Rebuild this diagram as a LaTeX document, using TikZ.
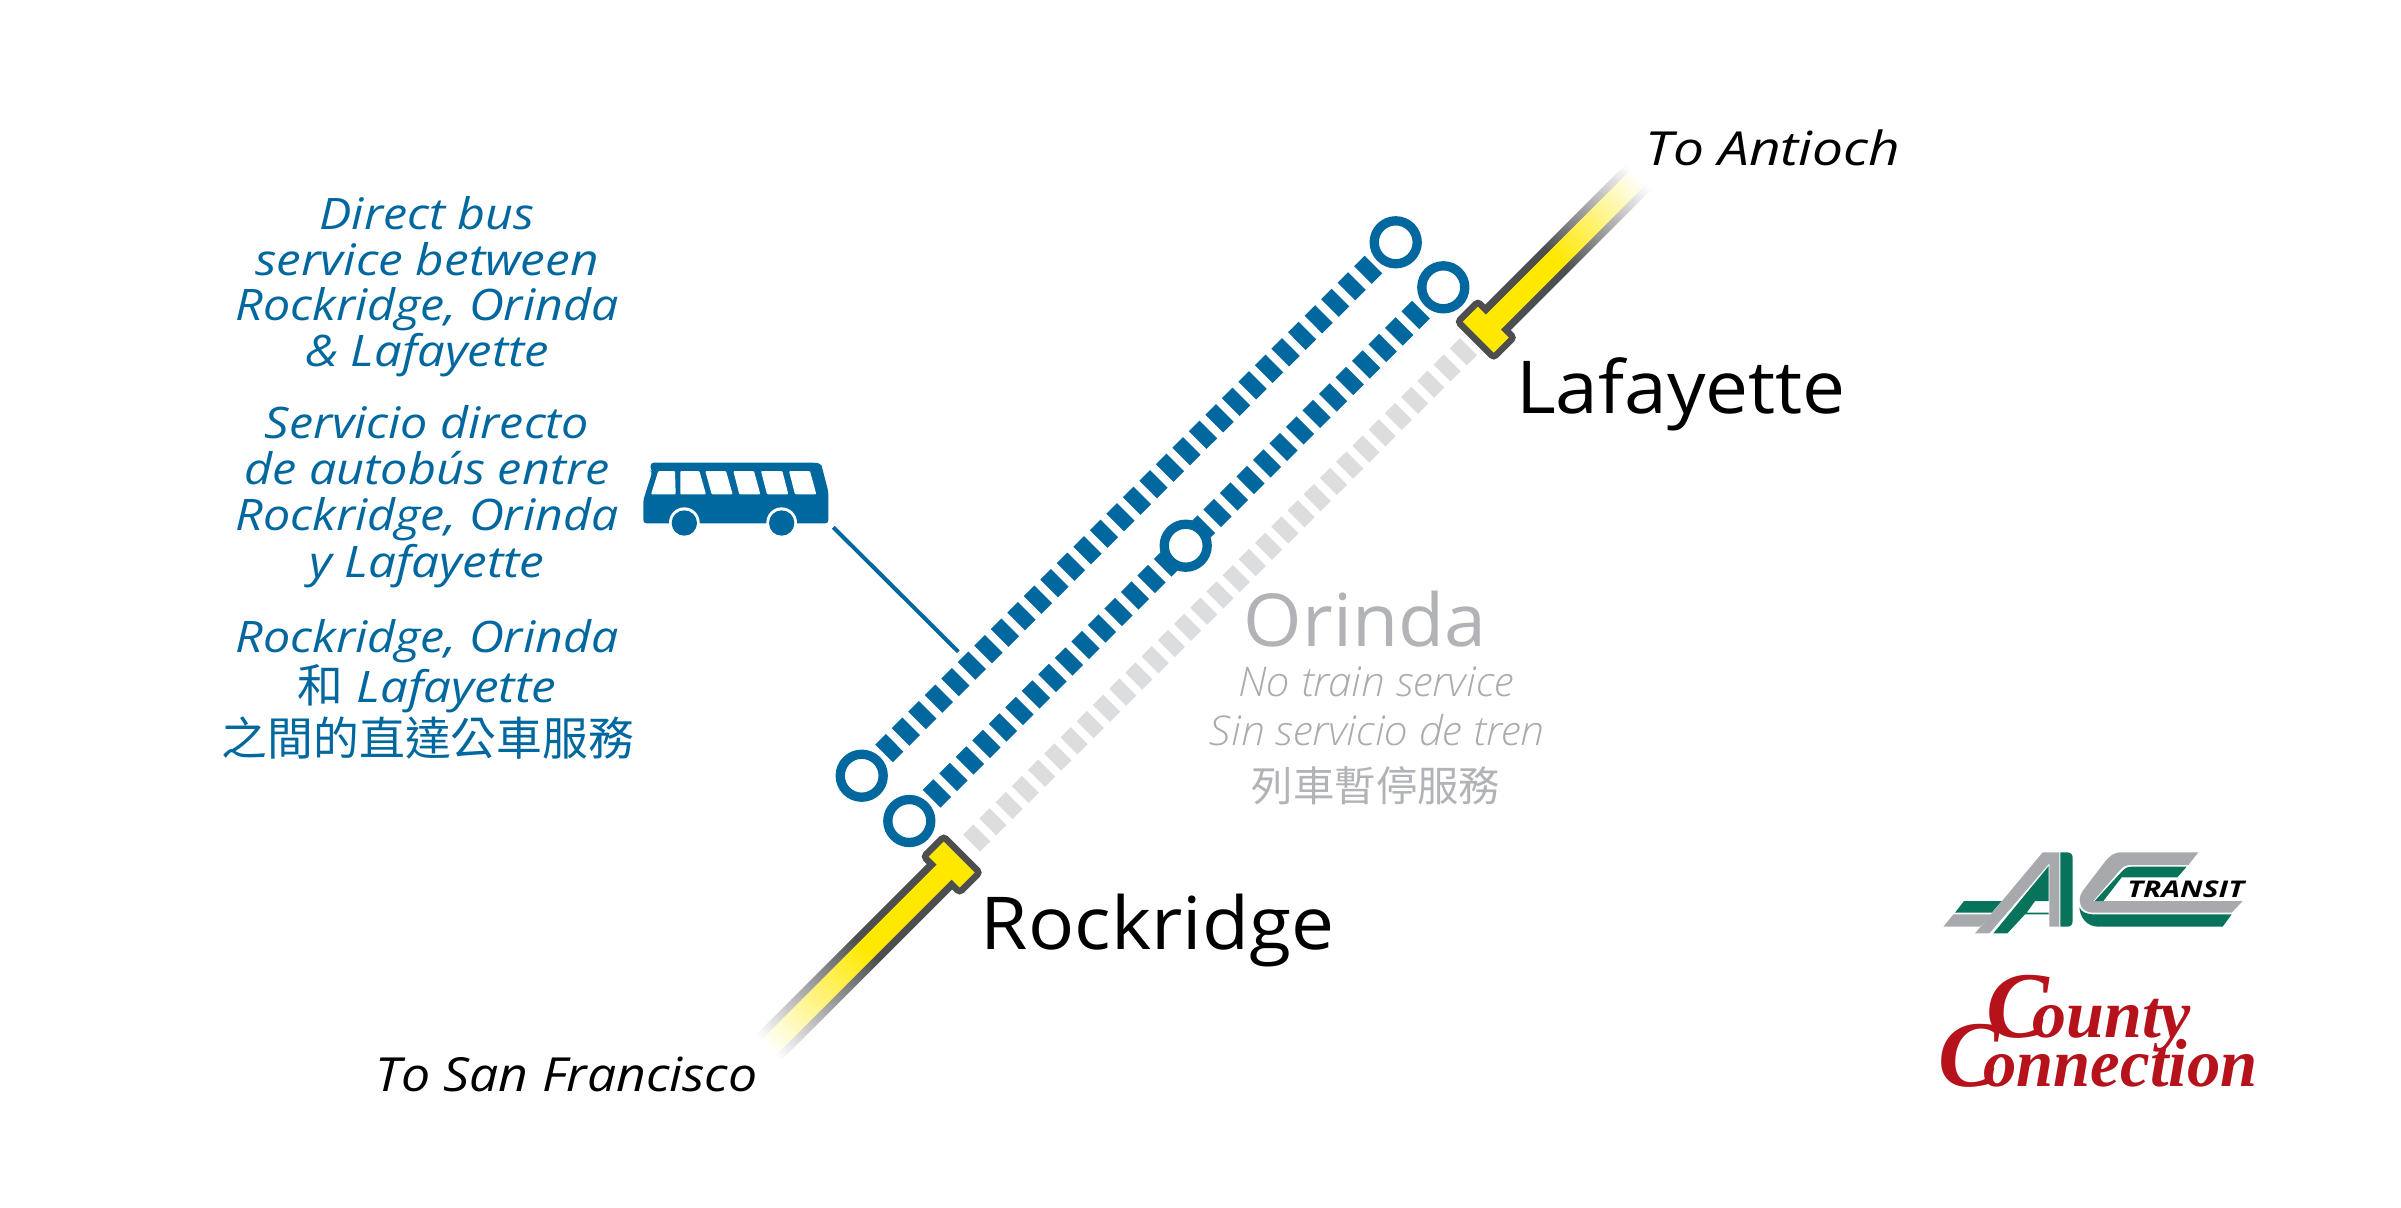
\documentclass[tikz,border=0pt]{standalone}
\usepackage{graphicx}
\usepackage{fontspec}
\setmainfont{Open Sans}
\newfontfamily\cjk{Noto Sans CJK TC}
\newfontfamily\logofont{Liberation Serif}
\newfontfamily\lightfont[ItalicFont={Open Sans Light Italic}]{Open Sans Light}
\usetikzlibrary{backgrounds}
\definecolor{busblue}{HTML}{00679F}
\definecolor{railyellow}{HTML}{FFE800}
\definecolor{raildark}{HTML}{4D4E50}
\definecolor{railgray}{HTML}{DCDDDE}
\definecolor{textgray}{HTML}{B1B3B6}
\definecolor{lightgray}{HTML}{A9ABAE}
\definecolor{acgray}{HTML}{A7A9AC}
\definecolor{acgreen}{HTML}{06735A}
\definecolor{ccred}{HTML}{B5121B}
\pgfdeclarehorizontalshading{fadedark}{100bp}{color(0bp)=(raildark); color(48bp)=(raildark); color(75bp)=(white); color(100bp)=(white)}
\pgfdeclarehorizontalshading{fadeyellow}{100bp}{color(0bp)=(railyellow); color(48bp)=(railyellow); color(75bp)=(white); color(100bp)=(white)}
\newcommand{\hs}[2]{\scalebox{#1}[1]{#2}}
\tikzset{
  txt/.style={inner sep=0pt,outer sep=0pt,anchor=base},
  bluetxt/.style={txt,text=busblue,font=\fontsize{21.7}{22}\selectfont\itshape},
  graytxt/.style={txt,text=lightgray,font=\fontsize{20.5}{21}\selectfont\lightfont\itshape},
  stationtxt/.style={txt,text=black,font=\fontsize{36.5}{37}\selectfont},
  totxt/.style={txt,text=black,font=\fontsize{23.5}{24}\selectfont\itshape},
  ring/.style={circle,draw=busblue,fill=white,line width=4.65pt,minimum size=21.5pt,inner sep=0pt,outer sep=0pt},
  bluedash/.style={draw=busblue,line width=12.5pt,dash pattern=on 7.5pt off 4.17pt,shorten <=5pt,shorten >=5pt},
  graydash/.style={draw=railgray,line width=12pt,dash pattern=on 7.25pt off 4.215pt},
  leader/.style={draw=busblue,line width=2pt},
  capshape/.style={fill=railyellow,draw=raildark,line width=3.25pt,rounded corners=1.5pt}
}
\newcommand{\railend}[4]{% x, y, angle, length
  \begin{scope}[transform canvas={shift={(#1,#2)},rotate=#3}]
    \shade[shading=fadedark] (0,-18) rectangle (#4,18);
    \path[capshape] (-14.05,-25.25) rectangle (14.05,25.25);
    \shade[shading=fadeyellow] (0,-10.5) rectangle (#4,10.5);
  \end{scope}}
\begin{document}
\begin{tikzpicture}[x=.5pt,y=-.5pt]
\useasboundingbox (0,0) rectangle (2401,1207);
% stations on the bus line
\node[ring] (u1) at (861.7,775.7) {};
\node[ring] (u2) at (1395.7,242.3) {};
\node[ring] (l1) at (909.3,821) {};
\node[ring] (l2) at (1443.3,287.3) {};
\node[ring] (mid) at (1185.7,545.7) {};
\coordinate (g1) at (971.6,843.1);
\coordinate (g2) at (1468.4,346.6);
\coordinate (lead1) at (833.3,527.3);
\coordinate (lead2) at (958.3,651.7);
\begin{scope}[on background layer]
  \draw[graydash] (g2) -- (g1);
  \draw[bluedash] (u1) -- (u2);
  \draw[bluedash] (l1) -- (l2);
  \draw[leader] (lead1) -- (lead2);
\end{scope}
% rail ends
\railend{1485.8}{329.6}{45}{216}
\railend{951.7}{864.5}{225}{260}
% bus
\begin{scope}[shift={(620,440)},x=.5pt/3,y=-.5pt/3]
  \fill[busblue,rounded corners=1.5pt] (92,68) -- (585,68) .. controls (600,70) and (605,78) .. (607,85) -- (625,155) -- (625,250) -- (70,250) -- (70,180) -- (97,95) -- (92,92) -- cycle;
  \fill[white,rounded corners=.5pt] (115,93) -- (165,93) -- (167,163) -- (93,163) -- cycle;
  \fill[white,rounded corners=.5pt] (181,93) -- (238,93) -- (258,163) -- (181,163) -- cycle;
  \fill[white,rounded corners=.5pt] (256,93) -- (318,93) -- (338,163) -- (275,163) -- cycle;
  \fill[white,rounded corners=.5pt] (340,93) -- (402,93) -- (421,163) -- (358,163) -- cycle;
  \fill[white,rounded corners=.5pt] (423,93) -- (487,93) -- (505,163) -- (441,163) -- cycle;
  \fill[white,rounded corners=.5pt] (507,93) -- (570,93) -- (589,163) -- (525,163) -- cycle;
  \fill[white] (193,248) circle[radius=46];
  \fill[white] (485,248) circle[radius=46];
  \fill[busblue] (193,249) circle[radius=38];
  \fill[busblue] (485,249) circle[radius=38];
\end{scope}
% left text
\node[bluetxt] (t1) at (427,229) {\hs{1.115}{Direct bus}};
\node[bluetxt] (t2) at (427,275) {\hs{1.14}{service between}};
\node[bluetxt] (t3) at (427,320.5) {\hs{1.115}{Rockridge, Orinda}};
\node[bluetxt] (t4) at (427,366) {\hs{1.13}{\& Lafayette}};
\node[bluetxt] (t5) at (427,438.5) {\hs{1.115}{Servicio directo}};
\node[bluetxt] (t6) at (427,484.5) {\hs{1.12}{de autobús entre}};
\node[bluetxt] (t7) at (427,530.5) {\hs{1.115}{Rockridge, Orinda}};
\node[bluetxt] (t8) at (427,577) {\hs{1.14}{y Lafayette}};
\node[bluetxt] (t9) at (427,652) {\hs{1.115}{Rockridge, Orinda}};
\node[bluetxt] (t10) at (427,702) {{\fontsize{22.9}{23}\selectfont\cjk\upshape 和}\hs{1.14}{ Lafayette}};
\node[txt,text=busblue,font=\fontsize{22.9}{23}\selectfont\cjk] (t11) at (428,755) {之間的直達公車服務};
% station labels
\node[stationtxt] (laf) at (1681,413) {\hs{1.05}{Lafayette}};
\node[stationtxt] (roc) at (1157.5,949) {\hs{1.05}{Rockridge}};
\node[txt,text=textgray,font=\fontsize{36.5}{37}\selectfont] (ori) at (1365,646.7) {\hs{1.03}{Orinda}};
\node[graytxt] (o1) at (1376,696) {\hs{1.03}{No train service}};
\node[graytxt] (o2) at (1377,745) {\hs{1.04}{Sin servicio de tren}};
\node[txt,text=textgray,font=\fontsize{20.7}{21}\selectfont\cjk] (o3) at (1376,801) {列車暫停服務};
\node[totxt] (ant) at (1773,165) {\hs{1.17}{To Antioch}};
\node[totxt] (sf) at (566.5,1091.7) {\hs{1.10}{To San Francisco}};
% AC Transit logo
\begin{scope}[shift={(1930,830)},x=.5pt/3,y=-.5pt/3]
  \fill[acgray] (40,290) -- (70,253) -- (185,253) -- (150,290) -- cycle;
  \fill[acgray] (135,310) -- (178,310) -- (358,100) -- (358,290) -- (388,290) -- (388,67) -- (338,67) -- cycle;
  \fill[acgreen] (75,248) -- (102,213) -- (215,213) -- (185,248) -- cycle;
  \fill[acgreen] (190,310) -- (232,310) -- (285,253) -- (356,253) -- (356,248) -- (290,248) -- (315,213) -- (356,213) -- (356,108) -- cycle;
  \fill[acgreen] (391,67) -- (412,67) .. controls (424,67) and (428,75) .. (428,85) -- (428,272) .. controls (428,284) and (422,290) .. (412,290) -- (391,290) -- cycle;
  \fill[acgray] (805,67) -- (575,67) .. controls (550,67) and (540,78) .. (525,95) -- (460,180) .. controls (445,200) and (445,225) .. (462,240) .. controls (470,247) and (480,248) .. (495,248) -- (905,248) -- (938,213) -- (490,213) -- (570,120) .. controls (580,108) and (590,105) .. (605,105) -- (775,105) -- cycle;
  \fill[acgreen] (770,110) -- (605,110) .. controls (590,110) and (585,115) .. (575,125) -- (494,213) -- (520,213) -- (575,142) -- (742,142) -- cycle;
  \fill[acgreen] (448,232) .. controls (450,262) and (470,290) .. (505,290) -- (878,290) -- (905,253) -- (495,253) .. controls (470,253) and (455,247) .. (448,232) -- cycle;
  \node[txt,anchor=base west,text=black,font=\fontsize{11.5}{12}\selectfont\bfseries\itshape] (tr) at (592,203) {\hs{1.3}{TRANSIT}};
\end{scope}
% County Connection logo
\begin{scope}[shift={(1930,830)},x=.5pt/3,y=-.5pt/3]
  \node[txt,anchor=base west,text=ccred,font=\logofont\bfseries\itshape] (cc1) at (170,622) {\hs{1.0}{\fontsize{47}{47}\selectfont C\kern-.18em\fontsize{34}{34}\selectfont ounty}};
  \node[txt,anchor=base west,text=ccred,font=\logofont\bfseries\itshape] (cc2) at (26,768) {\hs{.98}{\fontsize{47}{47}\selectfont C\kern-.18em\fontsize{34}{34}\selectfont onnection}};
\end{scope}
\end{tikzpicture}
\end{document}
